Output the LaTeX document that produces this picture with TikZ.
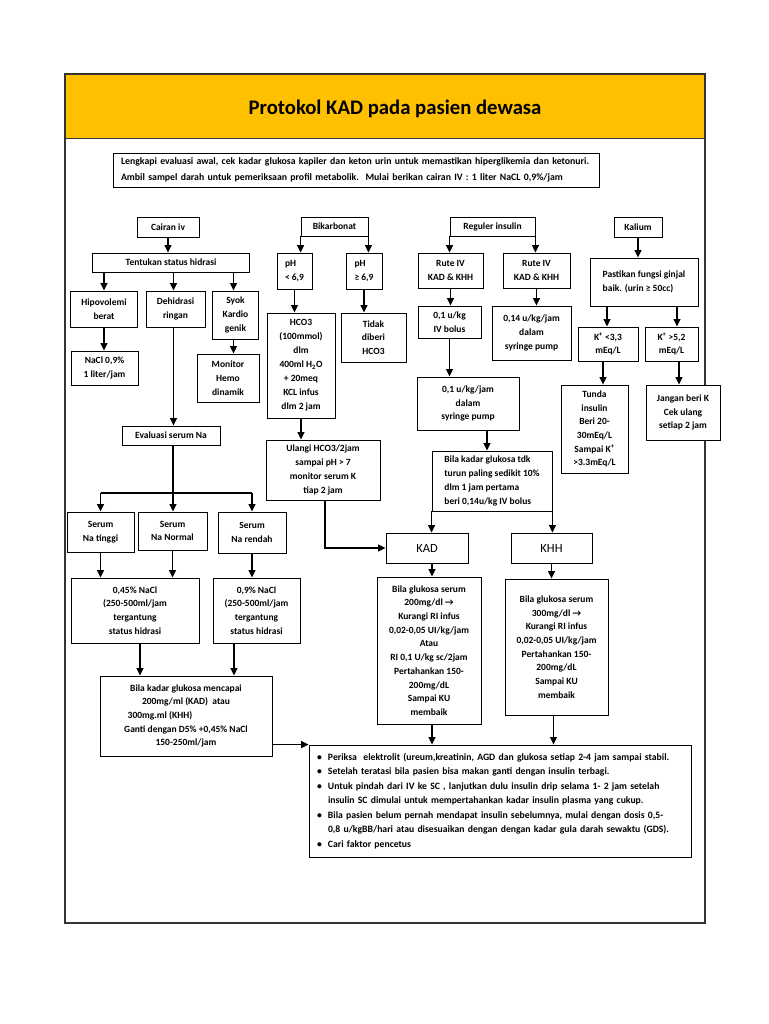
\documentclass[tikz,border=0pt]{standalone}
\usepackage{fontspec}
\setmainfont{Carlito}
\usetikzlibrary{arrows.meta}
\definecolor{hdr}{RGB}{255,192,0}
\newcommand\fs{\fontsize{9.5}{13.7}\selectfont\bfseries}
\begin{document}
\begin{tikzpicture}[x=1pt,y=-1pt,
  box/.style={draw=black, line width=0.9pt, fill=white, inner sep=0pt, align=center, font=\fs},
  arr/.style={line width=1.15pt, -{Triangle[length=7.5pt,width=7pt]}},
  ln/.style={line width=1.15pt}]
\useasboundingbox (0,0) rectangle (768,1024);
\fill[white] (0,0) rectangle (768,1024);
\fill[hdr] (65,74) rectangle (705,139);
\draw[line width=1.3pt, draw=black!80] (65,74) rectangle (705,923);
\draw[line width=1pt, draw=black!80] (65,139) -- (705,139);
\node[font=\fontsize{20.7}{24}\selectfont\bfseries] (title) at (395,109) {Protokol KAD pada pasien dewasa};

\node[box, minimum width=486pt, minimum height=34pt, text width=470pt, align=left, font=\fontsize{9.8}{16}\selectfont\bfseries] (intro) at (356,170)
 {Lengkapi evaluasi awal, cek kadar glukosa kapiler dan keton urin untuk memastikan hiperglikemia dan ketonuri.\\
  Ambil sampel darah untuk pemeriksaan profil metabolik.\ \ Mulai berikan cairan IV : 1 liter NaCL 0,9\%/jam};

% Cairan iv column
\node[box, minimum width=62pt, minimum height=20pt] (cairan) at (168,227) {Cairan iv};
\node[box, minimum width=157pt, minimum height=19pt] (tentukan) at (171,262.5) {Tentukan status hidrasi};
\node[box, minimum width=67pt, minimum height=36pt] (hipo) at (104,309) {Hipovolemi\\berat};
\node[box, minimum width=59pt, minimum height=36pt] (dehid) at (175.5,309) {Dehidrasi\\ringan};
\node[box, minimum width=46pt, minimum height=48pt] (syok) at (235.5,315) {Syok\\Kardio\\genik};
\node[box, minimum width=67pt, minimum height=34pt] (nacl) at (104.5,368) {NaCl 0,9\%\\1 liter/jam};
\node[box, minimum width=62pt, minimum height=48pt] (monitor) at (228,378) {Monitor\\Hemo\\dinamik};
\node[box, minimum width=98pt, minimum height=19pt] (evalna) at (171,435.5) {Evaluasi serum Na};
\node[box, minimum width=67pt, minimum height=40pt] (natinggi) at (100.5,532) {Serum\\Na tinggi};
\node[box, minimum width=69pt, minimum height=38pt] (nanormal) at (172.5,531) {Serum\\Na Normal};
\node[box, minimum width=68pt, minimum height=41pt] (narendah) at (252,532.5) {Serum\\Na rendah};
\node[box, minimum width=128pt, minimum height=65pt] (nacla) at (135,610.5) {0,45\% NaCl\\(250-500ml/jam\\tergantung\\status hidrasi};
\node[box, minimum width=87pt, minimum height=65pt] (naclb) at (256.5,610.5) {0,9\% NaCl\\(250-500ml/jam\\tergantung\\status hidrasi};
\node[box, minimum width=172pt, minimum height=80pt] (bilakadar) at (186,716) {Bila kadar glukosa mencapai\\200mg/ml (KAD)\ \ atau\\300mg.ml (KHH)\hspace*{52pt}\mbox{}\\Ganti dengan D5\% +0,45\% NaCl\\150-250ml/jam};

% Bikarbonat column
\node[box, minimum width=67pt, minimum height=19pt] (bik) at (334.5,226.5) {Bikarbonat};
\node[box, minimum width=35pt, minimum height=36pt, align=left] (phlow) at (294.5,271) {pH\\< 6,9};
\node[box, minimum width=36pt, minimum height=36pt, align=left] (phhigh) at (364,271) {pH\\≥ 6,9};
\node[box, minimum width=68pt, minimum height=105pt, font=\fontsize{9.5}{14}\selectfont\bfseries] (hco) at (301,365.5) {HCO3\\(100mmol)\\dlm\\400ml H\textsubscript{2}O\\+ 20meq\\KCL infus\\dlm 2 jam};
\node[box, minimum width=65pt, minimum height=49pt] (tidak) at (373.5,337.5) {Tidak\\diberi\\HCO3};
\node[box, minimum width=114pt, minimum height=60pt] (ulangi) at (323,470) {Ulangi HCO3/2jam\\sampai pH > 7\\monitor serum K\\tiap 2 jam};

% Insulin column
\node[box, minimum width=85pt, minimum height=19pt] (reguler) at (492.5,226.5) {Reguler insulin};
\node[box, minimum width=65pt, minimum height=35pt] (rutea) at (450.5,270.5) {Rute IV\\KAD \& KHH};
\node[box, minimum width=67pt, minimum height=35pt] (ruteb) at (536.5,270.5) {Rute IV\\KAD \& KHH};
\node[box, minimum width=63pt, minimum height=32pt] (bolus) at (449.5,322) {0,1 u/kg\\IV bolus};
\node[box, minimum width=79pt, minimum height=54pt] (uhigh) at (531.5,333) {0,14 u/kg/jam\\dalam\\syringe pump};
\node[box, minimum width=102pt, minimum height=53pt] (ulow) at (468,403.5) {0,1 u/kg/jam\\dalam\\syringe pump};
\node[box, minimum width=120pt, minimum height=60pt, align=left] (biltdk) at (492,481) {Bila kadar glukosa tdk\\turun paling sedikit 10\%\\dlm 1 jam pertama\\beri 0,14u/kg IV bolus};
\node[box, minimum width=82pt, minimum height=30pt, font=\fontsize{12.5}{14}\selectfont] (kad) at (427,548) {KAD};
\node[box, minimum width=81pt, minimum height=30pt, font=\fontsize{12.5}{14}\selectfont] (khh) at (551.5,548) {KHH};
\node[box, minimum width=104pt, minimum height=147pt] (kaddet) at (429,650.5) {Bila glukosa serum\\200mg/dl →\\Kurangi RI infus\\0,02-0,05 UI/kg/jam\\Atau\\RI 0,1 U/kg sc/2jam\\Pertahankan 150-\\200mg/dL\\Sampai KU\\membaik};
\node[box, minimum width=103pt, minimum height=136pt] (khhdet) at (556.5,647) {Bila glukosa serum\\300mg/dl →\\Kurangi RI infus\\0,02-0,05 UI/kg/jam\\Pertahankan 150-\\200mg/dL\\Sampai KU\\membaik};

% Kalium column
\node[box, minimum width=48pt, minimum height=20pt] (kalium) at (638,227) {Kalium};
\node[box, minimum width=108pt, minimum height=48pt, align=left] (pastikan) at (644,282) {Pastikan fungsi ginjal\\baik. (urin ≥ 50cc)};
\node[box, minimum width=60pt, minimum height=34pt] (klow) at (608,344) {K\textsuperscript{+} <3,3\\mEq/L};
\node[box, minimum width=53pt, minimum height=34pt] (khigh) at (671.5,344) {K\textsuperscript{+} >5,2\\mEq/L};
\node[box, minimum width=67pt, minimum height=88pt] (tunda) at (594.5,429) {Tunda\\insulin\\Beri 20-\\30mEq/L\\Sampai K\textsuperscript{+}\\>3.3mEq/L};
\node[box, minimum width=74pt, minimum height=55pt] (jangan) at (683,412.5) {Jangan beri K\\Cek ulang\\setiap 2 jam};

% Summary
\node[box, minimum width=382pt, minimum height=112pt, text width=366pt, align=left, font=\fontsize{9.7}{14.5}\selectfont\bfseries] (summ) at (500,801)
 {\makebox[11pt][l]{•}Periksa\ \ elektrolit (ureum,kreatinin, AGD dan glukosa setiap 2-4 jam sampai stabil.\\
  \makebox[11pt][l]{•}Setelah teratasi bila pasien bisa makan ganti dengan insulin terbagi.\\
  \makebox[11pt][l]{•}Untuk pindah dari IV ke SC , lanjutkan dulu insulin drip selama 1- 2 jam setelah\\
  \hspace*{11pt}insulin SC dimulai untuk mempertahankan kadar insulin plasma yang cukup.\\
  \makebox[11pt][l]{•}Bila pasien belum pernah mendapat insulin sebelumnya, mulai dengan dosis 0,5-\\
  \hspace*{11pt}0,8 u/kgBB/hari atau disesuaikan dengan dengan kadar gula darah sewaktu (GDS).\\
  \makebox[11pt][l]{•}Cari faktor pencetus};

% Connectors: cairan
\draw[arr] (cairan.south) -- (cairan.south |- tentukan.north);
\draw[arr] (hipo.north |- tentukan.south) -- (hipo.north);
\draw[arr] ([xshift=-2pt]dehid.north |- tentukan.south) -- ([xshift=-2pt]dehid.north);
\draw[arr] ([xshift=-2pt]syok.north |- tentukan.south) -- ([xshift=-2pt]syok.north);
\draw[arr] (hipo.south) -- (hipo.south |- nacl.north);
\draw[arr] ([xshift=-2pt]syok.south) -- ([xshift=-2pt]syok.south |- monitor.north);
\draw[arr] ([xshift=-2pt]dehid.south) -- ([xshift=-2pt]dehid.south |- evalna.north);
\coordinate (j0) at (0,493);
\draw[ln] ([xshift=2pt]evalna.south) -- ([xshift=2pt]evalna.south |- j0);
\draw[ln] (natinggi.north |- j0) -- (narendah.north |- j0);
\draw[arr] (natinggi.north |- j0) -- (natinggi.north);
\draw[arr] ([xshift=2pt]evalna.south |- j0) -- ([xshift=2pt]evalna.south |- nanormal.north);
\draw[arr] (narendah.north |- j0) -- (narendah.north);
\draw[arr] (natinggi.south) -- (natinggi.south |- nacla.north);
\draw[arr] (nanormal.south) -- (nanormal.south |- nacla.north);
\draw[arr] (narendah.south) -- (narendah.south |- naclb.north);
\draw[arr] ([xshift=5pt]nacla.south) -- ([xshift=5pt]nacla.south |- bilakadar.north);
\draw[arr] ([xshift=-22.5pt]naclb.south) -- ([xshift=-22.5pt]naclb.south |- bilakadar.north);
\draw[arr] (bilakadar.east |- summ.north west) -- (summ.north west);

% bikarbonat
\draw[arr] (bik.south west) -- (bik.south west |- phlow.north);
\draw[arr] (bik.south east) -- (bik.south east |- phhigh.north);
\draw[arr] (phlow.south) -- (phlow.south |- hco.north);
\draw[arr] (phhigh.south) -- (phhigh.south |- tidak.north);
\draw[arr] (hco.south) -- (hco.south |- ulangi.north);
\draw[arr] ([xshift=2pt]ulangi.south) -- ([xshift=2pt]ulangi.south |- kad.west) -- (kad.west);

% insulin
\draw[arr] (reguler.south west) -- (reguler.south west |- rutea.north);
\draw[arr] (reguler.south east) -- (reguler.south east |- ruteb.north);
\draw[arr] (rutea.south) -- (rutea.south |- bolus.north);
\draw[arr] (ruteb.south) -- (ruteb.south |- uhigh.north);
\draw[arr] (bolus.south) -- (bolus.south |- ulow.north);
\draw[arr] ([xshift=19pt]ulow.south) -- ([xshift=19pt]ulow.south |- biltdk.north);
\draw[arr] (biltdk.south west) -- (biltdk.south west |- kad.north);
\draw[arr] (biltdk.south east) -- (biltdk.south east |- khh.north);
\draw[arr] ([xshift=5pt]kad.south) -- ([xshift=5pt]kad.south |- kaddet.north);
\draw[arr] (khh.south) -- (khh.south |- khhdet.north);
\draw[arr] ([xshift=3pt]kaddet.south) -- ([xshift=3pt]kaddet.south |- summ.north);
\draw[arr] ([xshift=-3pt]khhdet.south) -- ([xshift=-3pt]khhdet.south |- summ.north);

% kalium
\draw[arr] (kalium.south) -- (kalium.south |- pastikan.north);
\draw[arr] ([xshift=-37pt]pastikan.south) -- ([xshift=-37pt]pastikan.south |- klow.north);
\draw[arr] ([xshift=33pt]pastikan.south) -- ([xshift=33pt]pastikan.south |- khigh.north);
\draw[arr] ([xshift=-5pt]klow.south) -- ([xshift=-5pt]klow.south |- tunda.north);
\draw[arr] ([xshift=7.5pt]khigh.south) -- ([xshift=7.5pt]khigh.south |- jangan.north);
\end{tikzpicture}
\end{document}
